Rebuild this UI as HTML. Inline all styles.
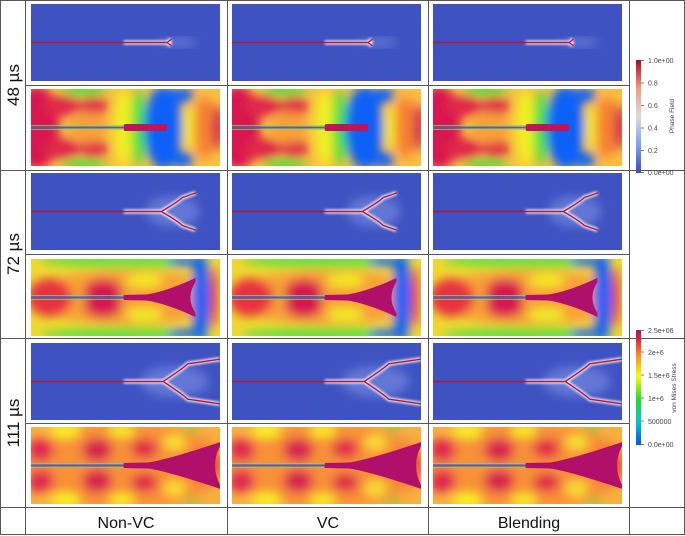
<!DOCTYPE html>
<html><head><meta charset="utf-8"><style>
html,body{margin:0;padding:0;background:#fff;}
svg{display:block;font-family:"Liberation Sans",sans-serif;}
</style></head><body>
<svg id="fig" width="685" height="536" viewBox="0 0 685 536" xmlns="http://www.w3.org/2000/svg">
<defs>
<filter id="blur5" x="-20%" y="-20%" width="140%" height="140%"><feGaussianBlur stdDeviation="5"/></filter>
<filter id="blur3" x="-20%" y="-20%" width="140%" height="140%"><feGaussianBlur stdDeviation="3"/></filter>
<filter id="blur1" x="-20%" y="-50%" width="140%" height="200%"><feGaussianBlur stdDeviation="1.2"/></filter>
<linearGradient id="pfbar" x1="0" y1="1" x2="0" y2="0">
<stop offset="0" stop-color="#3b4cc0"/><stop offset="0.25" stop-color="#7b9ff9"/><stop offset="0.5" stop-color="#dddcdc"/><stop offset="0.75" stop-color="#f49a7b"/><stop offset="1" stop-color="#b40426"/>
</linearGradient>
<linearGradient id="vmbar" x1="0" y1="1" x2="0" y2="0">
<stop offset="0" stop-color="#0050ff"/><stop offset="0.2" stop-color="#00c8c8"/><stop offset="0.4" stop-color="#20e020"/><stop offset="0.6" stop-color="#ffff00"/><stop offset="0.8" stop-color="#ff8020"/><stop offset="0.92" stop-color="#e02040"/><stop offset="1" stop-color="#b0106a"/>
</linearGradient>
</defs>
<g id="grid" stroke="#555" stroke-width="1" fill="none">
<rect x="0.5" y="0.5" width="684" height="534"/>
<line x1="25.5" y1="0" x2="25.5" y2="535"/>
<line x1="227.5" y1="0" x2="227.5" y2="535"/>
<line x1="428.5" y1="0" x2="428.5" y2="535"/>
<line x1="629.5" y1="0" x2="629.5" y2="535"/>
<line x1="25" y1="85.5" x2="629" y2="85.5"/>
<line x1="0" y1="170.5" x2="685" y2="170.5"/>
<line x1="25" y1="254.5" x2="629" y2="254.5"/>
<line x1="0" y1="338.5" x2="685" y2="338.5"/>
<line x1="25" y1="423.5" x2="629" y2="423.5"/>
<line x1="0" y1="507.5" x2="685" y2="507.5"/>
</g>
<g id="panels"></g>
<g font-size="17" fill="#111">
<text transform="translate(19,85) rotate(-90)" text-anchor="middle">48 µs</text>
<text transform="translate(19,254) rotate(-90)" text-anchor="middle">72 µs</text>
<text transform="translate(19,423) rotate(-90)" text-anchor="middle">111 µs</text>
</g>
<g font-size="16" fill="#111" text-anchor="middle">
<text x="126" y="528">Non-VC</text>
<text x="328" y="528">VC</text>
<text x="529" y="528">Blending</text>
</g>
<g font-size="7" fill="#444">
<rect x="636" y="60" width="5" height="113" fill="url(#pfbar)"/>
<g stroke="#444" stroke-width="0.7">
<line x1="641" y1="60.5" x2="644" y2="60.5"/><line x1="641" y1="83" x2="644" y2="83"/><line x1="641" y1="105.5" x2="644" y2="105.5"/><line x1="641" y1="128" x2="644" y2="128"/><line x1="641" y1="150.5" x2="644" y2="150.5"/><line x1="641" y1="172.5" x2="644" y2="172.5"/>
</g>
<text x="648" y="63">1.0e+00</text><text x="648" y="85.5">0.8</text><text x="648" y="108">0.6</text><text x="648" y="130.5">0.4</text><text x="648" y="153">0.2</text><text x="648" y="175">0.0e+00</text>
<text transform="translate(674,116) rotate(-90)" text-anchor="middle" font-size="6.5">Phase Field</text>
</g>
<g font-size="7" fill="#444">
<rect x="636" y="330" width="5" height="115" fill="url(#vmbar)"/>
<g stroke="#444" stroke-width="0.7">
<line x1="641" y1="330.5" x2="644" y2="330.5"/><line x1="641" y1="352" x2="644" y2="352"/><line x1="641" y1="375" x2="644" y2="375"/><line x1="641" y1="398" x2="644" y2="398"/><line x1="641" y1="421" x2="644" y2="421"/><line x1="641" y1="444.5" x2="644" y2="444.5"/>
</g>
<text x="648" y="333">2.5e+06</text><text x="648" y="355">2e+6</text><text x="648" y="378">1.5e+6</text><text x="648" y="401">1e+6</text><text x="648" y="424">500000</text><text x="648" y="447">0.0e+00</text>
<text transform="translate(676,388) rotate(-90)" text-anchor="middle" font-size="6.5">von Mises Stress</text>
</g>
</svg>
<script>
const NS='http://www.w3.org/2000/svg';
const colX=[31,232,433];
const phaseRowY=[4,173,343];
const stressRowY=[89,259,427];
const times=['48','72','111'];
const methods=['non-vc','vc','blending'];
const PW=189, PH=77;
// crack geometry (fractions of panel)
const haloStart=[0.49,0.49,0.49];
const branchX=[0.72,0.69,0.70];
const bendX=[0.72,0.80,0.83];
const bendY=[0.5,0.32,0.27];
const endX=[0.72,0.87,1.0];
const endY=[0.5,0.26,0.21];
// stress blobs per time: [cx,cy,rx,ry,color]
const blobs48=[[0.03,0.5,0.12,0.55,'#d81850'],[0.16,0.22,0.1,0.14,'#e02848'],[0.16,0.78,0.1,0.14,'#e02848'],[0.33,0.22,0.08,0.12,'#e03048'],[0.33,0.78,0.08,0.12,'#e03048'],[0.3,0.5,0.1,0.2,'#f8a038'],[0.28,0.02,0.12,0.07,'#40e040'],[0.28,0.98,0.12,0.07,'#40e040'],[0.49,0.5,0.05,0.5,'#f0f020'],[0.57,0.5,0.04,0.5,'#50e040'],[0.7,0.5,0.1,0.55,'#0860f8'],[0.8,0.08,0.06,0.1,'#0860f8'],[0.8,0.92,0.06,0.1,'#0860f8'],[0.84,0.5,0.03,0.25,'#f0f020'],[0.92,0.5,0.06,0.4,'#f88030'],[0.99,0.5,0.03,0.3,'#d02050']];
const blobs72=[[0.5,0.5,0.5,0.36,'#f8a038'],[0.1,0.5,0.12,0.25,'#e83040'],[0.38,0.42,0.1,0.16,'#d81850'],[0.38,0.6,0.1,0.16,'#d81850'],[0.5,0.02,0.45,0.09,'#60e040'],[0.5,0.98,0.45,0.09,'#60e040'],[0.6,0.28,0.1,0.08,'#f0f020'],[0.6,0.72,0.1,0.08,'#f0f020'],[0.9,0.5,0.05,0.6,'#0860f8'],[0.82,0.03,0.1,0.06,'#0860f8'],[0.82,0.97,0.1,0.06,'#0860f8'],[0.97,0.5,0.02,0.4,'#e83040']];
const blobs111=[[0.5,0.5,0.55,0.55,'#f89038'],[0.05,0.3,0.07,0.15,'#e02850'],[0.05,0.7,0.07,0.15,'#e02850'],[0.35,0.3,0.08,0.15,'#d82050'],[0.35,0.7,0.08,0.15,'#d82050'],[0.6,0.28,0.07,0.12,'#e02848'],[0.6,0.72,0.07,0.12,'#e02848'],[0.18,0.05,0.08,0.1,'#f8f020'],[0.18,0.95,0.08,0.1,'#f8f020'],[0.48,0.05,0.07,0.08,'#f8f020'],[0.48,0.95,0.07,0.08,'#f8f020'],[0.76,0.2,0.06,0.1,'#f8e030'],[0.76,0.8,0.06,0.1,'#f8e030'],[0.85,0.02,0.04,0.04,'#40d040'],[0.85,0.98,0.04,0.04,'#40d040'],[0.92,0.5,0.08,0.2,'#e83040']];
const blobSets=[blobs48,blobs72,blobs111];
const stressBase=['#f8c040','#f0d830','#f8b040'];
const root=document.getElementById('panels');
function mk(tag,attrs,parent){const e=document.createElementNS(NS,tag);for(const k in attrs)e.setAttribute(k,attrs[k]);parent.appendChild(e);return e;}
function crackPath(x,y,t){
  const yc=y+PH/2;
  const bx=x+branchX[t]*PW, kx=x+bendX[t]*PW, ex=x+endX[t]*PW;
  const ky=y+bendY[t]*PH, ey=y+endY[t]*PH, ky2=y+(1-bendY[t])*PH, ey2=y+(1-endY[t])*PH;
  if(t===0) return `M${x} ${yc} L${bx} ${yc} M${bx} ${yc} L${bx+4} ${yc-3} M${bx} ${yc} L${bx+4} ${yc+3}`;
  return `M${x} ${yc} L${bx} ${yc} M${bx} ${yc} Q${kx-4} ${ky+4} ${kx} ${ky} L${ex} ${ey} M${bx} ${yc} Q${kx-4} ${ky2-4} ${kx} ${ky2} L${ex} ${ey2}`;
}
for(let t=0;t<3;t++){
  for(let m=0;m<3;m++){
    const x=colX[m];
    let y=phaseRowY[t];
    const gp=mk('g',{},root);
    
    
    const cp=mk('clipPath',{id:'cp'+t+m},gp);
    mk('rect',{x:x,y:y,width:PW,height:PH},cp);
    const inner=mk('g',{'clip-path':'url(#cp'+t+m+')'},gp);
    mk('rect',{x:x,y:y,width:PW,height:PH,fill:'#3f52c2'},inner);
    const hx=x+haloStart[t]*PW;
    mk('ellipse',{cx:x+(branchX[t]+0.06)*PW,cy:y+PH/2,rx:(endX[t]-haloStart[t])*PW*0.3+5,ry:PH*(t===0?0.06:0.2),fill:'#8fa6ee',filter:'url(#blur5)',opacity:'0.45'},inner);
    const d=crackPath(x,y,t);
    const dh=crackPath(x,y,t).replace(/^M[^L]+L/,'M'+hx+' '+(y+PH/2)+' L');
    mk('path',{d:dh,stroke:'#ffffff',opacity:'0.9','stroke-width':'4',fill:'none',filter:'url(#blur1)'},inner);
    mk('path',{d:d,stroke:'#b8152c','stroke-width':'1.4',fill:'none','stroke-linecap':'round'},inner);
    y=stressRowY[t];
    const gs=mk('g',{},root);
    
    
    const cs=mk('clipPath',{id:'cs'+t+m},gs);
    mk('rect',{x:x,y:y,width:PW,height:PH},cs);
    const si=mk('g',{'clip-path':'url(#cs'+t+m+')'},gs);
    mk('rect',{x:x,y:y,width:PW,height:PH,fill:stressBase[t]},si);
    const bg=mk('g',{filter:'url(#blur5)'},si);
    blobSets[t].forEach(b=>{
      const e=mk('ellipse',{cx:x+b[0]*PW,cy:y+b[1]*PH,rx:b[2]*PW,ry:b[3]*PH,fill:b[4]},bg);
      
      
    });
    const yc=y+PH/2, hs=x+haloStart[t]*PW, bx=x+branchX[t]*PW;
    if(t===0){
      mk('rect',{x:hs,y:yc-3.5,width:bx-hs,height:7,rx:2,fill:'#c0145a'},si);
    } else {
      const ex=x+endX[t]*PW, ey=y+endY[t]*PH, ey2=y+(1-endY[t])*PH;
      const fan=mk('path',{d:`M${hs} ${yc-2.5} L${bx-15} ${yc-3} Q${bx+5} ${yc-6} ${ex} ${ey-1} L${ex} ${ey+3} Q${ex-10} ${yc} ${ex} ${ey2-3} L${ex} ${ey2+1} Q${bx+5} ${yc+6} ${bx-15} ${yc+3} L${hs} ${yc+2.5} Z`,fill:'#b0106a'},si);
      
      
    }
    mk('line',{x1:x,y1:yc-2,x2:hs,y2:yc-2,stroke:'#90d070','stroke-width':'0.8'},si);
    mk('line',{x1:x,y1:yc+2,x2:hs,y2:yc+2,stroke:'#90d070','stroke-width':'0.8'},si);
    mk('rect',{x:x,y:yc-1,width:hs-x,height:2,fill:'#5060b0'},si);
  }
}
</script>
</body></html>
